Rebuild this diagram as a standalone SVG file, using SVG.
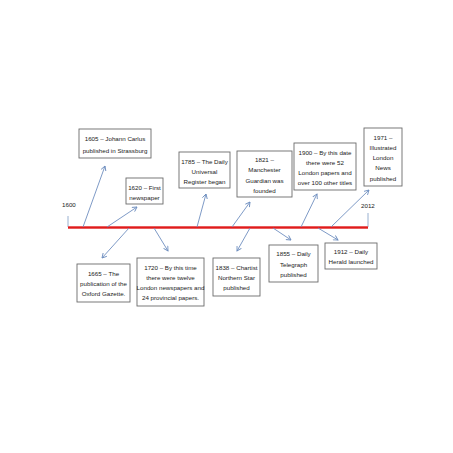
<svg xmlns="http://www.w3.org/2000/svg" width="453" height="453" viewBox="0 0 453 453">
<style>
.box{fill:#fff;stroke:#6b6b6b;stroke-width:0.9}
.t{font-family:"Liberation Sans",Arial,sans-serif;font-size:6.2px;fill:#1a1a1a;text-anchor:middle}
.yr{font-family:"Liberation Sans",Arial,sans-serif;font-size:6.2px;fill:#1a1a1a}
.ar{stroke:#6f8fbf;stroke-width:0.9;fill:none;marker-end:url(#ah)}
.tick{stroke:#7f9cc4;stroke-width:0.8}
</style>
<defs>
<marker id="ah" markerWidth="6" markerHeight="6" refX="5" refY="3" orient="auto" markerUnits="userSpaceOnUse">
<path d="M0.5,0.5 L5,3 L0.5,5.5" fill="none" stroke="#6f8fbf" stroke-width="0.9"/>
</marker>
</defs>
<rect width="453" height="453" fill="#fff"/>
<g id="timeline">
<line class="tick" x1="68" y1="216" x2="68" y2="227"/>
<line class="tick" x1="368" y1="213" x2="368" y2="227"/>
<line x1="68" y1="227.5" x2="368" y2="227.5" stroke="#f3a0a0" stroke-width="3.2"/>
<line x1="68" y1="227.5" x2="368" y2="227.5" stroke="#e01b1b" stroke-width="1.8"/>
<text class="yr" x="62" y="207">1600</text>
<text class="yr" x="361" y="208">2012</text>
</g>
<g id="connectors">
<line class="ar" x1="83" y1="227" x2="105" y2="166"/>
<line class="ar" x1="107" y1="227" x2="137" y2="207"/>
<line class="ar" x1="197" y1="227" x2="206" y2="194"/>
<line class="ar" x1="232" y1="227" x2="250" y2="202"/>
<line class="ar" x1="301" y1="227" x2="317" y2="194"/>
<line class="ar" x1="331" y1="227" x2="369" y2="190"/>
<line class="ar" x1="129" y1="228" x2="102" y2="258"/>
<line class="ar" x1="154" y1="228" x2="168" y2="251"/>
<line class="ar" x1="250" y1="228" x2="237" y2="251"/>
<line class="ar" x1="273" y1="228" x2="291" y2="240"/>
<line class="ar" x1="318" y1="228" x2="338" y2="240"/>
</g>
<g id="n1605"><rect class="box" x="79" y="129" width="72" height="29"/>
<text class="t" x="115" y="140.5">1605 – Johann Carlus</text>
<text class="t" x="115" y="152.5">published in Strassburg</text></g>
<g id="n1620"><rect class="box" x="126" y="178" width="37" height="26"/>
<text class="t" x="144.5" y="189.5">1620 – First</text>
<text class="t" x="144.5" y="199.5">newspaper</text></g>
<g id="n1785"><rect class="box" x="179" y="152" width="51" height="36"/>
<text class="t" x="204.5" y="163.5">1785 – The Daily</text>
<text class="t" x="204.5" y="173.5">Universal</text>
<text class="t" x="204.5" y="183.5">Register began</text></g>
<g id="n1821"><rect class="box" x="237" y="151" width="55" height="46"/>
<text class="t" x="264.5" y="161.5">1821 –</text>
<text class="t" x="264.5" y="172">Manchester</text>
<text class="t" x="264.5" y="182.5">Guardian was</text>
<text class="t" x="264.5" y="192.5">founded</text></g>
<g id="n1900"><rect class="box" x="294" y="143" width="62" height="47"/>
<text class="t" x="325" y="155">1900 – By this date</text>
<text class="t" x="325" y="165">there were 52</text>
<text class="t" x="325" y="175">London papers and</text>
<text class="t" x="325" y="185">over 100 other titles</text></g>
<g id="n1971"><rect class="box" x="364" y="128" width="38" height="58"/>
<text class="t" x="383" y="139.5">1971 –</text>
<text class="t" x="383" y="149.5">Illustrated</text>
<text class="t" x="383" y="159.5">London</text>
<text class="t" x="383" y="170">News</text>
<text class="t" x="383" y="180.5">published</text></g>
<g id="n1665"><rect class="box" x="77" y="264" width="53" height="38"/>
<text class="t" x="103.5" y="275.5">1665 – The</text>
<text class="t" x="103.5" y="285.5">publication of the</text>
<text class="t" x="103.5" y="296">Oxford Gazette.</text></g>
<g id="n1720"><rect class="box" x="137" y="258" width="67" height="48"/>
<text class="t" x="170.5" y="269.5">1720 – By this time</text>
<text class="t" x="170.5" y="279.5">there were twelve</text>
<text class="t" x="170.5" y="290">London newspapers and</text>
<text class="t" x="170.5" y="299.5">24 provincial papers.</text></g>
<g id="n1838"><rect class="box" x="213" y="258" width="47" height="38"/>
<text class="t" x="236.5" y="269.5">1838 – Chartist</text>
<text class="t" x="236.5" y="279.5">Northern Star</text>
<text class="t" x="236.5" y="289.5">published</text></g>
<g id="n1855"><rect class="box" x="269" y="245" width="49" height="37"/>
<text class="t" x="293.5" y="255.5">1855 – Daily</text>
<text class="t" x="293.5" y="266.5">Telegraph</text>
<text class="t" x="293.5" y="276.5">published</text></g>
<g id="n1912"><rect class="box" x="325" y="243" width="52" height="26"/>
<text class="t" x="351" y="254">1912 – Daily</text>
<text class="t" x="351" y="264">Herald launched</text></g>
</svg>
